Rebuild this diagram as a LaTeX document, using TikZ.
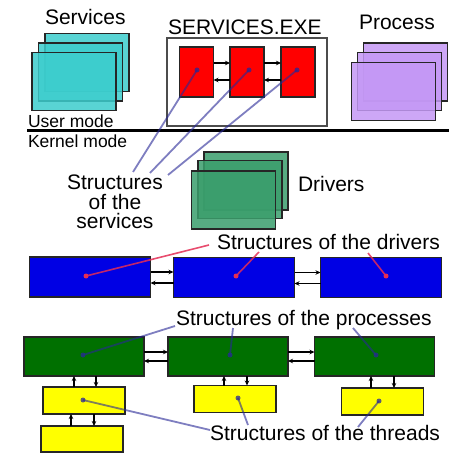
\documentclass[tikz,border=0pt]{standalone}
\usepackage{fontspec}
\setmainfont{Liberation Sans}
\usetikzlibrary{arrows.meta}
\usepackage{xcolor}

\definecolor{svcteal}{RGB}{60,205,205}
\definecolor{proclav}{RGB}{196,152,245}
\definecolor{drvgreen}{RGB}{58,158,108}
\definecolor{exered}{RGB}{255,0,0}
\definecolor{drvblue}{RGB}{0,0,228}
\definecolor{procgreen}{RGB}{0,112,0}
\definecolor{thryellow}{RGB}{255,255,0}
\definecolor{ptrblue}{RGB}{40,40,150}
\definecolor{ptrred}{RGB}{228,45,85}

\begin{document}
\begin{tikzpicture}[
    x=1pt, y=-1pt,
    >={Stealth[length=5pt,width=4.5pt]},
    every node/.style={inner sep=0pt, outer sep=0pt, font=\fontsize{21}{18.5}\selectfont},
    blk/.style={draw=black!85, line width=1.2pt},
    card/.style={blk, fill opacity=0.85, minimum width=84pt, minimum height=58pt},
    exebox/.style={blk, fill=exered, minimum width=34pt, minimum height=50pt},
    drvbox/.style={blk, fill=drvblue, minimum width=121pt, minimum height=40pt},
    procbox/.style={blk, fill=procgreen, minimum width=120pt, minimum height=39pt},
    thrbox/.style={blk, fill=thryellow, minimum width=82pt, minimum height=27pt},
    link/.style={->, line width=1.3pt},
    ptr/.style={draw=ptrblue, draw opacity=0.6, line width=1.8pt},
    dptr/.style={draw=ptrred, draw opacity=0.85, line width=1.6pt},
    dot/.style={circle, fill=ptrblue, fill opacity=0.75, minimum size=5pt},
    ddot/.style={circle, fill=ptrred, minimum size=5pt}
]
\useasboundingbox (0,0) rectangle (474,465);

% User mode part
\node[anchor=base west] (svclbl) at (45,25) {Services};
\node[card, fill=svcteal] (svcs3) at (87,62.5) {};
\node[card, fill=svcteal] (svcs2) at (80.5,72) {};
\node[card, fill=svcteal] (svcs1) at (74,81.5) {};

\node[anchor=base west] (exelbl) at (168,35) {SERVICES.EXE};
\node[draw=black!70, line width=1.2pt, minimum width=160pt, minimum height=88pt] (exe) at (247,82) {};
\node[exebox] (exe1) at (196.5,72) {};
\node[exebox] (exe2) at (247,72) {};
\node[exebox] (exe3) at (298,72) {};

\node[anchor=base west] (proclbl) at (359,30) {Process};
\node[card, fill=proclav] (procs3) at (405.5,72) {};
\node[card, fill=proclav] (procs2) at (399.5,81.5) {};
\node[card, fill=proclav] (procs1) at (393.5,91.5) {};

% Mode border
\node[anchor=base west, font=\fontsize{17.5}{18}\selectfont] (user) at (28,128) {User mode};
\node[anchor=base west, font=\fontsize{17.5}{18}\selectfont] (kernel) at (28,148) {Kernel mode};
\coordinate (bl) at (27,131);
\coordinate (br) at (449,131);
\draw[line width=3pt] (bl) -- (br);

% Drivers
\node[card, fill=drvgreen] (drvs3) at (246,181) {};
\node[card, fill=drvgreen] (drvs2) at (240,189.5) {};
\node[card, fill=drvgreen] (drvs1) at (233.5,200) {};
\node[anchor=base west] (drvlbl) at (298,192) {Drivers};
\node[align=center, font=\fontsize{21}{19.5}\selectfont] (svcstr) at (115,202) {Structures\\of the\\services};

% Arrows between services structures
\draw[link] ([yshift=9pt]exe1.east) -- ([yshift=9pt]exe2.west);
\draw[link] ([yshift=-8pt]exe2.west) -- ([yshift=-8pt]exe1.east);
\draw[link] ([yshift=9pt]exe2.east) -- ([yshift=9pt]exe3.west);
\draw[link] ([yshift=-8pt]exe3.west) -- ([yshift=-8pt]exe2.east);

% Driver structures
\node[anchor=base west] (drvstr) at (217,250) {Structures of the drivers};
\node[drvbox] (drv1) at (90,277) {};
\node[drvbox] (drv2) at (234,277.5) {};
\node[drvbox] (drv3) at (381,277.5) {};
\draw[link] ([yshift=5pt]drv1.east) -- ([yshift=5pt]drv1.east -| drv2.west);
\draw[link] ([yshift=-6pt]drv1.east -| drv2.west) -- ([yshift=-6pt]drv1.east);
\draw[link] ([yshift=5pt]drv2.east) -- ([yshift=5pt]drv2.east -| drv3.west);
\draw[link] ([yshift=-6pt]drv2.east -| drv3.west) -- ([yshift=-6pt]drv2.east);

% Process structures
\node[anchor=base west] (procstr) at (176,325) {Structures of the processes};
\node[procbox] (proc1) at (84,356.5) {};
\node[procbox] (proc2) at (228,356.5) {};
\node[procbox] (proc3) at (374.5,356.5) {};
\draw[link] ([yshift=4.5pt]proc1.east) -- ([yshift=4.5pt]proc2.west);
\draw[link] ([yshift=-4.5pt]proc2.west) -- ([yshift=-4.5pt]proc1.east);
\draw[link] ([yshift=4.5pt]proc2.east) -- ([yshift=4.5pt]proc3.west);
\draw[link] ([yshift=-4.5pt]proc3.west) -- ([yshift=-4.5pt]proc2.east);

% Thread structures
\node[anchor=base west] (thrstr) at (210,440.5) {Structures of the threads};
\node[thrbox] (thr1) at (84,400.5) {};
\node[thrbox] (thr2) at (235,399) {};
\node[thrbox] (thr3) at (382.5,401.5) {};
\node[thrbox, minimum height=26pt] (thr4) at (82,439) {};
\draw[link] ([xshift=-10pt]thr1.north) -- ([xshift=-10pt]thr1.north |- proc1.south);
\draw[link] ([xshift=12pt]thr1.north |- proc1.south) -- ([xshift=12pt]thr1.north);
\draw[link] ([xshift=-11pt]thr2.north) -- ([xshift=-11pt]thr2.north |- proc2.south);
\draw[link] ([xshift=12pt]thr2.north |- proc2.south) -- ([xshift=12pt]thr2.north);
\draw[link] ([xshift=-11.5pt]thr3.north) -- ([xshift=-11.5pt]thr3.north |- proc3.south);
\draw[link] ([xshift=11.5pt]thr3.north |- proc3.south) -- ([xshift=11.5pt]thr3.north);
\draw[link] ([xshift=-11pt]thr4.north) -- ([xshift=-11pt]thr4.north |- thr1.south);
\draw[link] ([xshift=12pt]thr4.north |- thr1.south) -- ([xshift=12pt]thr4.north);

% Pointers to the labels
\node[dot] (exed1) at (197,70) {};
\node[dot] (exed2) at (249,70) {};
\node[dot] (exed3) at (297,70) {};
\coordinate (svcp1) at (133,172);
\coordinate (svcp2) at (150,173);
\coordinate (svcp3) at (168,175);
\draw[ptr] (svcp1) -- (exed1.center);
\draw[ptr] (svcp2) -- (exed2.center);
\draw[ptr] (svcp3) -- (exed3.center);

\node[ddot] (drvd1) at (86,276) {};
\node[ddot] (drvd2) at (236,276) {};
\node[ddot] (drvd3) at (386,276) {};
\coordinate (drvp1) at (209,245);
\coordinate (drvp2) at (259,252);
\coordinate (drvp3) at (368,253);
\draw[dptr] (drvd1.center) -- (drvp1);
\draw[dptr] (drvd2.center) -- (drvp2);
\draw[dptr] (drvd3.center) -- (drvp3);

\node[dot] (procd1) at (83,355) {};
\node[dot] (procd2) at (230,355) {};
\node[dot] (procd3) at (376,355) {};
\coordinate (procp1) at (175,326);
\coordinate (procp2) at (233,328);
\coordinate (procp3) at (353,328);
\draw[ptr] (procd1.center) -- (procp1);
\draw[ptr] (procd2.center) -- (procp2);
\draw[ptr] (procd3.center) -- (procp3);

\node[dot] (thrd1) at (83,400) {};
\node[dot] (thrd2) at (238,398) {};
\node[dot] (thrd3) at (379,401) {};
\coordinate (thrp1) at (210,430);
\coordinate (thrp2) at (248,425);
\coordinate (thrp3) at (358,427);
\draw[ptr] (thrd1.center) -- (thrp1);
\draw[ptr] (thrd2.center) -- (thrp2);
\draw[ptr] (thrd3.center) -- (thrp3);
\end{tikzpicture}
\end{document}
